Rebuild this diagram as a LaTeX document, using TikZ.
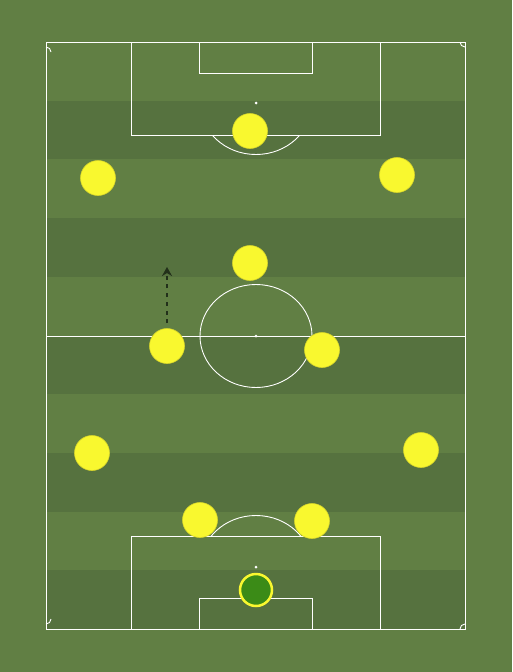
\documentclass[tikz,border=0pt]{standalone}
\usetikzlibrary{arrows.meta}
\definecolor{grass}{HTML}{617F44}
\definecolor{grassdark}{HTML}{56723F}
\definecolor{shirt}{HTML}{F9F82F}
\definecolor{shirtedge}{HTML}{D9D72A}
\definecolor{keeper}{HTML}{3B8B17}
\definecolor{runcol}{HTML}{22301A}
\tikzset{
  pitchline/.style={draw=white,line width=0.9pt},
  player/.style={circle,fill=shirt,draw=shirtedge,line width=0.6pt,minimum size=35pt,inner sep=0pt},
  goalie/.style={circle,fill=keeper,draw=shirt,line width=2.5pt,minimum size=32pt,inner sep=0pt},
  run/.style={draw=runcol,line width=2.6pt,dash pattern=on 4pt off 4.7pt,-{Stealth[length=9pt,width=10pt]}}
}
\begin{document}
\begin{tikzpicture}[x=1pt,y=-1pt]
\fill[grass] (0,0) rectangle (512,672);
\useasboundingbox (0,0) rectangle (512,672);
\foreach \i in {1,3,5,7,9}
  \fill[grassdark] (46,{42+\i*58.7}) rectangle (465,{42+(\i+1)*58.7});
\draw[pitchline] (46,42) rectangle (465,629);
\draw[pitchline] (46,336) -- (465,336);
\draw[pitchline] (256,336) ellipse [x radius=56,y radius=51.5];
\fill[white] (256,336) circle (1.5);
\draw[pitchline] (131,42) -- (131,135) -- (380,135) -- (380,42);
\draw[pitchline] (199,42) -- (199,73) -- (312,73) -- (312,42);
\fill[white] (256,103) circle (1.5);
\begin{scope}
\clip (46,135) rectangle (465,200);
\draw[pitchline] (256,103) ellipse [x radius=56,y radius=51.5];
\end{scope}
\draw[pitchline] (131,629) -- (131,536) -- (380,536) -- (380,629);
\draw[pitchline] (199,629) -- (199,598) -- (312,598) -- (312,629);
\fill[white] (256,567) circle (1.5);
\begin{scope}
\clip (46,470) rectangle (465,536);
\draw[pitchline] (256,567) ellipse [x radius=56,y radius=51.5];
\end{scope}
\draw[pitchline] (46,47) arc (-90:0:5);
\draw[pitchline] (460,42) arc (180:90:5);
\draw[pitchline] (46,624) arc (90:0:5);
\draw[pitchline] (460,629) arc (180:270:5);
\node[goalie] (gk) at (256,590) {};
\node[player] (lb) at (92,453) {};
\node[player] (lcb) at (200,520) {};
\node[player] (rcb) at (312,521) {};
\node[player] (rb) at (421,450) {};
\node[player] (lcm) at (167,346) {};
\node[player] (rcm) at (322,350) {};
\node[player] (am) at (250,263) {};
\node[player] (lw) at (98,178) {};
\node[player] (rw) at (397,175) {};
\node[player] (st) at (250,131) {};
\coordinate (lcmrun) at (167,267);
\draw[run] ([yshift=5pt]lcm.north) -- (lcmrun);
\end{tikzpicture}
\end{document}
